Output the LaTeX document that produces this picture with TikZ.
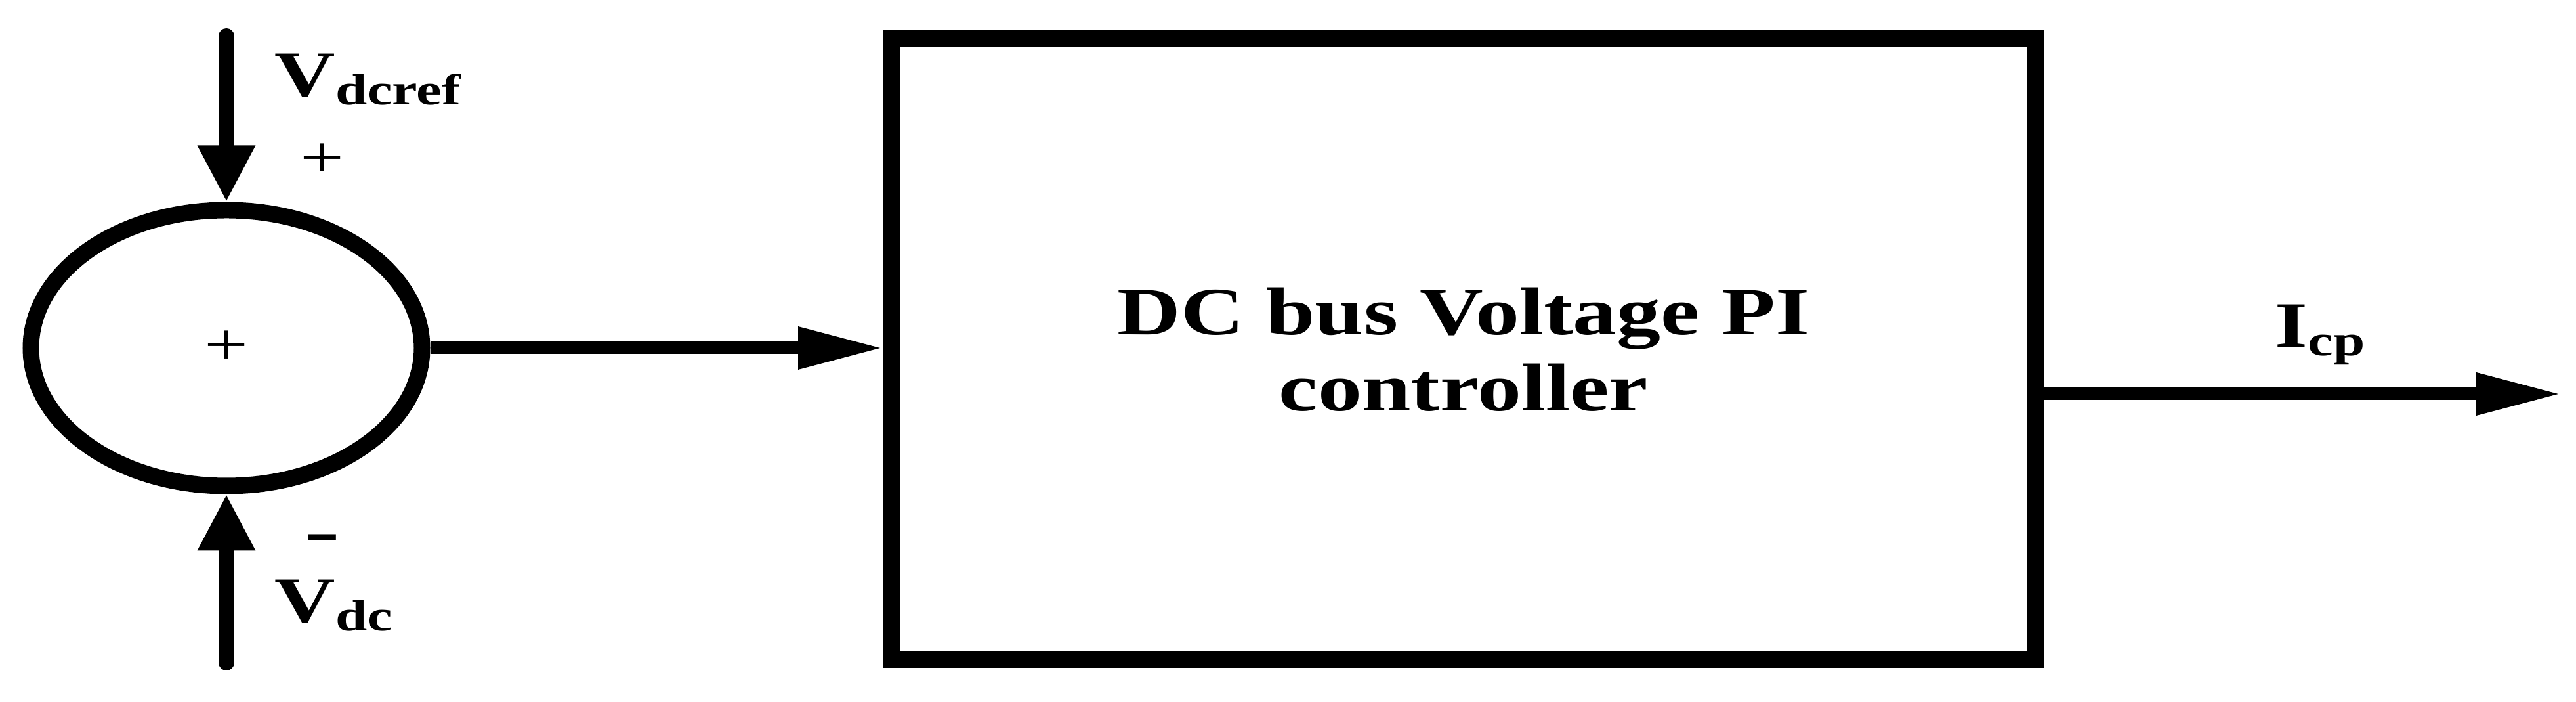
\documentclass[tikz,border=0pt]{standalone}
\usepackage{fontspec}
\setmainfont{Liberation Serif}[FakeStretch=1.3]
\usetikzlibrary{arrows.meta, positioning, shapes.geometric}

\newcommand{\sig}[2]{\fontsize{28}{28}\selectfont\bfseries #1\raisebox{-0.13cm}{\fontsize{19}{19}\selectfont #2}}

\begin{document}
\begin{tikzpicture}
  [sum/.style={ellipse, draw, line width=0.25cm, minimum width=5.96cm, minimum height=4.2cm, inner sep=0pt, font=\fontsize{26}{26}\selectfont},
   block/.style={rectangle, draw, line width=0.25cm, minimum width=17.43cm, minimum height=9.46cm, align=center, font=\fontsize{29.3}{33}\selectfont\bfseries},
   txt/.style={inner sep=0pt, anchor=base west},
   sign/.style={inner sep=0pt, font=\fontsize{26}{26}\selectfont},
   feed/.style={line width=0.24cm, line cap=round, -{Triangle[length=0.86cm, width=0.82cm]}},
   wire/.style={line width=0.19cm, -{Triangle[length=1.3cm, width=0.6cm]}}]
  \useasboundingbox (0,0) rectangle (39.25,10.69);
  \node (sum) at (3.45, 5.39) [sum] {+};
  \node (pi) at (22.30, 5.37) [block] {DC bus Voltage PI\\controller};
  \coordinate (ref) at (3.45, 10.14);
  \coordinate (meas) at (3.45, 0.60);
  \coordinate (out) at (39.03, 4.69);
  \node (vref) at (4.18, 9.22) [txt] {\sig{V}{dcref}};
  \node (vdc) at (4.18, 1.21) [txt] {\sig{V}{dc}};
  \node (icp) at (34.66, 5.40) [txt] {\sig{I}{cp}};
  \node (pref) at (4.91, 8.24) [sign] {+};
  \node (mdc) at (4.91, 2.38) [sign, font=\fontsize{36}{36}\selectfont] {-};
  \draw [feed] (ref) to (sum.north);
  \draw [feed] (meas) to (sum.south);
  \draw [wire] (sum.east) to (sum.east -| pi.west);
  \draw [wire] (pi.east |- out) to (out);
\end{tikzpicture}
\end{document}
